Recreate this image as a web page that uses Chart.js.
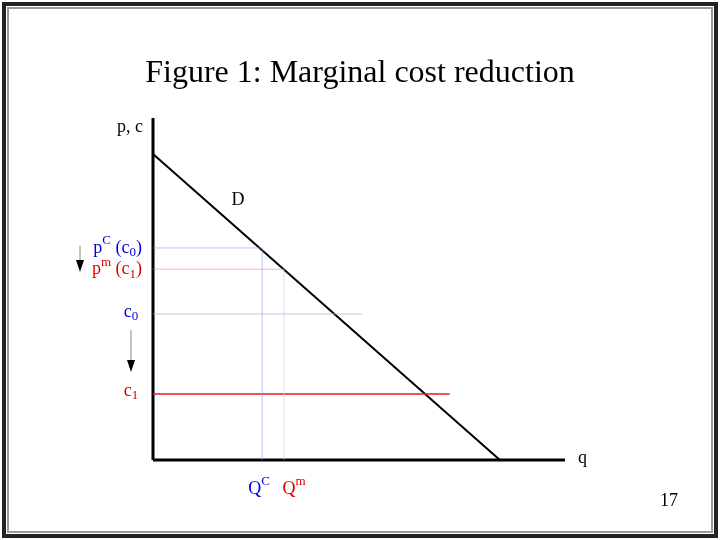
<!DOCTYPE html>
<html><head><meta charset="utf-8">
<script src="https://cdn.jsdelivr.net/npm/chart.js"></script>
<style>body{margin:0;background:#fff}#w{width:720px;height:540px}</style>
</head><body><div id="w"><canvas id="c"></canvas></div>
<script>
const demandQ=[0,84.2], demandP=[89.5,0];
const pC=62, pM=55.8, c0=42.7, c1=19.3;
const qC=26.5, qM=31.8, c0End=50.7, c1End=72;
const axisMax=100;
const F='"Liberation Serif","Times New Roman",serif';
function seg(ctx,parts,x,y,align){
  let w=0; parts.forEach(p=>{ctx.font=(p[2]=='n'?'18px ':'13px ')+F; w+=ctx.measureText(p[0]).width;});
  let cx=align=='right'?x-w:(align=='center'?x-w/2:x);
  parts.forEach(p=>{ctx.font=(p[2]=='n'?'18px ':'13px ')+F;ctx.fillStyle=p[1];ctx.textAlign='left';ctx.textBaseline='middle';
    let dy=p[2]=='sup'?-7:(p[2]=='sub'?5:0);ctx.fillText(p[0],cx,y+dy);cx+=ctx.measureText(p[0]).width;});
}
function arrow(ctx,x,y1,y2){ctx.strokeStyle='#888';ctx.lineWidth=1;ctx.beginPath();ctx.moveTo(x,y1);ctx.lineTo(x,y2-10);ctx.stroke();
  ctx.fillStyle='#000';ctx.beginPath();ctx.moveTo(x-4,y2-12);ctx.lineTo(x+4,y2-12);ctx.lineTo(x,y2);ctx.closePath();ctx.fill();}
const deco={id:'deco',afterDraw(ch){const ctx=ch.ctx,xs=ch.scales.x,ys=ch.scales.y;
  ctx.save();
  ctx.strokeStyle='#222';ctx.lineWidth=4;ctx.strokeRect(4,4,712,532);
  ctx.strokeStyle='#999';ctx.lineWidth=2;ctx.strokeRect(8,8,704,524);
  ctx.fillStyle='#000';ctx.font='32px '+F;ctx.textAlign='center';ctx.textBaseline='middle';
  ctx.fillText('Figure 1: Marginal cost reduction',360,74);
  seg(ctx,[['p, c','#000','n']],143,127,'right');
  seg(ctx,[['D','#000','n']],238,200,'center');
  seg(ctx,[['q','#000','n']],578,458,'left');
  seg(ctx,[['17','#000','n']],678,501,'right');
  const B='#0000dd',R='#dd0000';
  seg(ctx,[['p',B,'n'],['C',B,'sup'],[' (c',B,'n'],['0',B,'sub'],[')',B,'n']],142,ys.getPixelForValue(pC),'right');
  seg(ctx,[['p',R,'n'],['m',R,'sup'],[' (c',R,'n'],['1',R,'sub'],[')',R,'n']],142,ys.getPixelForValue(pM),'right');
  seg(ctx,[['c',B,'n'],['0',B,'sub']],131,ys.getPixelForValue(c0)-2,'center');
  seg(ctx,[['c',R,'n'],['1',R,'sub']],131,ys.getPixelForValue(c1)-3,'center');
  seg(ctx,[['Q',B,'n'],['C',B,'sup']],xs.getPixelForValue(qC)-3,489,'center');
  seg(ctx,[['Q',R,'n'],['m',R,'sup']],xs.getPixelForValue(qM)+10,489,'center');
  arrow(ctx,80,246,272);arrow(ctx,131,330,372);
  ctx.restore();}};
function L(d,color,w){return {data:d,borderColor:color,borderWidth:w,pointRadius:0,fill:false,clip:false};}
new Chart(document.getElementById('c'),{type:'scatter',
 data:{datasets:[
  L([{x:0,y:pC},{x:qC,y:pC}],'rgba(150,150,230,0.6)',1),
  L([{x:qC,y:0},{x:qC,y:pC}],'rgba(150,150,230,0.6)',1),
  L([{x:0,y:pM},{x:qM,y:pM}],'rgba(240,140,140,0.6)',1),
  L([{x:qM,y:0},{x:qM,y:pM}],'rgba(220,190,220,0.6)',1),
  L([{x:0,y:c0},{x:c0End,y:c0}],'rgba(170,170,230,0.7)',1),
  L([{x:0,y:c1},{x:c1End,y:c1}],'#e02020',1.5),
  L(demandQ.map((q,i)=>({x:q,y:demandP[i]})),'#000',2),
  L([{x:0,y:0},{x:axisMax,y:0}],'#000',3),
  L([{x:0,y:0},{x:0,y:axisMax}],'#000',3)
 ].map(d=>Object.assign(d,{showLine:true}))},
 options:{responsive:true,maintainAspectRatio:false,animation:false,
  layout:{padding:{left:153,right:155,top:118,bottom:80}},
  plugins:{legend:{display:false},tooltip:{enabled:false}},
  scales:{x:{display:false,min:0,max:axisMax},y:{display:false,min:0,max:axisMax}}},
 plugins:[deco]});
</script></body></html>
